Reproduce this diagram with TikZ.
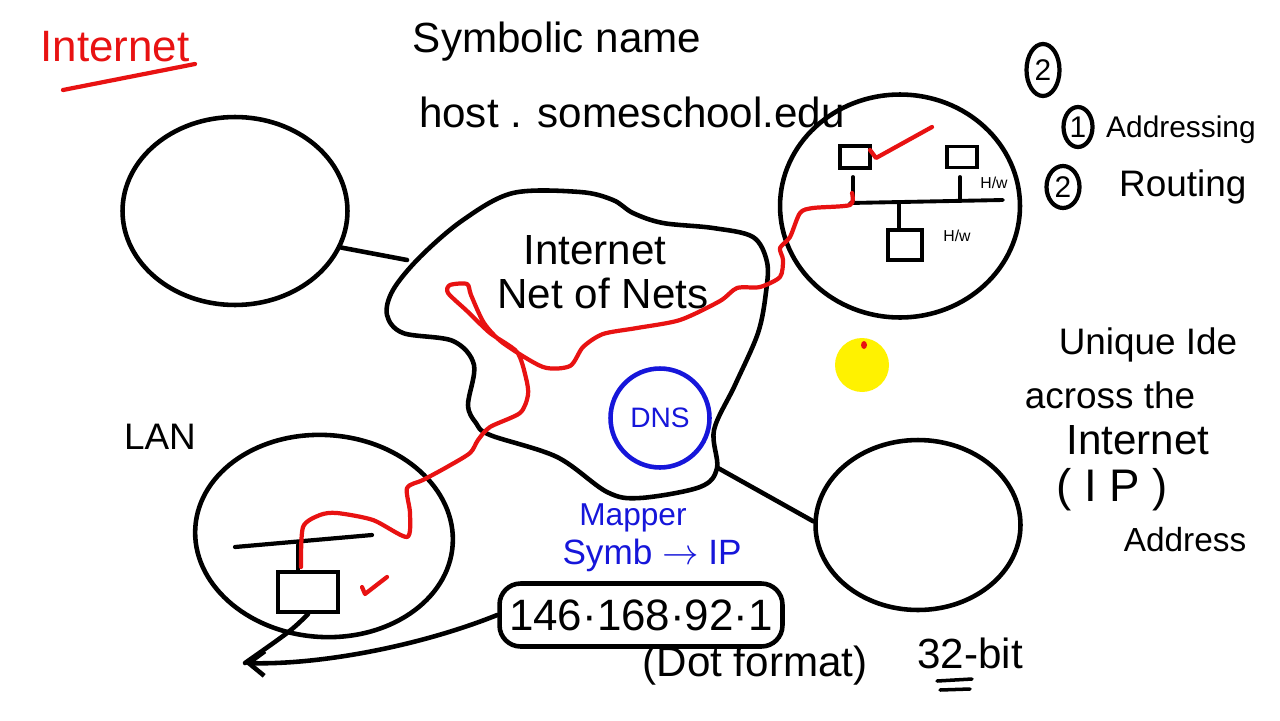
\documentclass[tikz,border=0pt]{standalone}
\usepackage{fontspec}
\setmainfont{Liberation Sans}
\usepackage{tikz}
\usetikzlibrary{shapes.geometric,arrows.meta}
\definecolor{penred}{RGB}{232,18,18}
\definecolor{penblue}{RGB}{22,22,218}

\begin{document}
\begin{tikzpicture}[x=0.02cm,y=-0.02cm,
  ink/.style={line width=2.6pt,line cap=round,line join=round},
  wire/.style={draw=penred,line width=2.4pt,line cap=round,line join=round},
  lan/.style={ellipse,draw,ink,inner sep=0pt},
  hostbox/.style={draw,line width=2.2pt,inner sep=0pt},
  bigtxt/.style={font=\fontsize{24}{28}\selectfont},
  midtxt/.style={font=\fontsize{21}{25}\selectfont},
  smalltxt/.style={font=\fontsize{19}{23}\selectfont},
  tinytxt/.style={font=\fontsize{9}{11}\selectfont},
  numring/.style={draw,ellipse,line width=2.4pt,inner sep=0pt,font=\fontsize{17}{20}\selectfont}]
\useasboundingbox (0,0) rectangle (1280,720);
\fill[white] (0,0) rectangle (1280,720);
% title
\node[bigtxt,text=penred,font=\fontsize{25}{29}\selectfont] (title) at (115,47) {Internet};
\draw[wire] (63,90) -- (195,64);
\node[bigtxt] (symname) at (557,42) {Symbolic name};
\node[bigtxt] (hostname) at (632,112) {host . someschool.edu};
% networks
\node[lan,minimum width=4.5cm,minimum height=3.76cm] (lanNW) at (235,211) {};
\node[lan,minimum width=5.16cm,minimum height=4.04cm,rotate=-4] (lanSW) at (324,536) {};
\node[lan,minimum width=4.8cm,minimum height=4.46cm] (lanNE) at (900,206) {};
\node[lan,minimum width=4.1cm,minimum height=3.4cm] (lanSE) at (918,525) {};
\node[midtxt] (lanlabel) at (160,437) {LAN};
% internet cloud
\draw[ink] plot[smooth cycle,tension=0.55] coordinates {
  (420,257) (463,220) (513,193) (580,192) (613,200) (633,213) (663,223)
  (713,228) (753,237) (767,262) (766,292) (758,333) (735,385) (714,430)
  (717,468) (700,487) (640,498) (607,492) (557,457) (490,435) (476,423)
  (468,405) (474,365) (453,341) (403,333) (387,315) (393,290)};
\coordinate (cloudW) at (407,260);
\coordinate (cloudSE) at (718,468);
\node[bigtxt] (cloudname) at (595,250) {Internet};
\node[bigtxt] (cloudsub) at (603,293) {Net of Nets};
\draw[ink] (lanNW.-19) -- (cloudW);
\draw[ink] (cloudSE) -- (lanSE.178);
% DNS
\node[circle,draw=penblue,line width=2.6pt,minimum size=1.98cm,text=penblue,
  font=\fontsize{16}{19}\selectfont] (dns) at (660,418) {DNS};
\node[text=penblue,font=\fontsize{18}{21}\selectfont] (mapper) at (633,518) {Mapper};
\node[text=penblue,font=\fontsize{20}{23}\selectfont] (symbip) at (652,555) {Symb $\rightarrow$ IP};
% hosts of the right network
\node[hostbox,minimum width=0.6cm,minimum height=0.44cm] (hostA) at (855,157) {};
\node[hostbox,minimum width=0.6cm,minimum height=0.42cm] (hostB) at (962,157) {};
\node[hostbox,minimum width=0.68cm,minimum height=0.6cm] (hostC) at (905,245) {};
\coordinate (busL) at (850,203);
\coordinate (busR) at (1003,200);
\draw[ink,line width=2.2pt] (busL) -- (busR);
\draw[ink,line width=2.2pt] (853,177) -- (853,201);
\draw[ink,line width=2.2pt] (960,177) -- (960,199);
\draw[ink,line width=2.2pt] (899,202) -- (hostC.north -| 899,0);
\node[tinytxt] (hwB) at (994,183) {H/w};
\node[tinytxt] (hwC) at (957,236) {H/w};
\draw[wire] (870,150) -- (876,158) -- (932,127);
% host of the LAN
\node[hostbox,line width=2.4pt,minimum width=1.2cm,minimum height=0.8cm] (hostSW) at (308,592) {};
\draw[ink,line width=2.4pt] (235,547) -- (372,535);
\draw[ink,line width=2.4pt] (298,545) -- (hostSW.north -| 298,0);
\draw[wire] (362,587) -- (365,594) -- (387,577);
% route
\draw[wire] plot[smooth,tension=0.45] coordinates {
  (301,567) (303,527) (320,515) (337,513) (373,520) (407,537) (410,513)
  (407,488) (423,480) (447,467) (470,453) (478,440) (490,427) (520,413)
  (528,395) (526,378) (517,352) (490,333) (467,311) (448,293) (450,285)
  (467,284) (471,295) (484,323) (503,343) (543,367) (570,366) (583,347)
  (603,334) (637,328) (680,320) (720,301) (737,288) (760,287) (780,277)
  (783,260) (780,248) (790,237) (800,213) (813,208) (850,205) (852,193)};
% address
\node[draw,ink,rounded corners=12pt,minimum width=5.66cm,minimum height=1.26cm,
  font=\fontsize{25}{29}\selectfont] (ip) at (641,615) {146·168·92·1};
\node[bigtxt] (dotfmt) at (755,666) {(Dot format)};
\node[bigtxt] (bits) at (970,653) {32-bit};
\draw[ink,line width=2pt] (937,681) -- (972,679);
\draw[ink,line width=2pt] (940,690) -- (970,689);
\coordinate (tip) at (245,663);
\draw[ink] (hostSW.south) .. controls (292,630) .. (tip);
\draw[ink,-{Straight Barb[length=9pt,width=14pt]}] (ip.west) .. controls (420,646) and (320,665) .. (tip);
% notes
\node[numring,minimum width=0.66cm,minimum height=1.04cm] (numTop) at (1043,70) {2};
\node[numring,minimum width=0.58cm,minimum height=0.8cm] (numOne) at (1078,127) {1};
\node[anchor=west,font=\fontsize{17}{21}\selectfont] (addr) at (1100,130) {Addressing};
\node[numring,minimum width=0.66cm,minimum height=0.84cm] (numTwo) at (1063,187) {2};
\node[midtxt,anchor=west] (routing) at (1113,187) {Routing};
\node[midtxt] (uniq) at (1148,345) {Unique Ide};
\node[midtxt] (across) at (1110,395) {across the};
\node[bigtxt] (inet) at (1138,440) {Internet};
\node[font=\fontsize{26}{30}\selectfont] (ipnote) at (1112,490) {( I P )};
\node[smalltxt] (address) at (1185,540) {Address};
% pointer
\fill[yellow] (862,365) circle (0.54cm);
\fill[penred] (864,345) ellipse (0.06cm and 0.08cm);
\end{tikzpicture}
\end{document}
